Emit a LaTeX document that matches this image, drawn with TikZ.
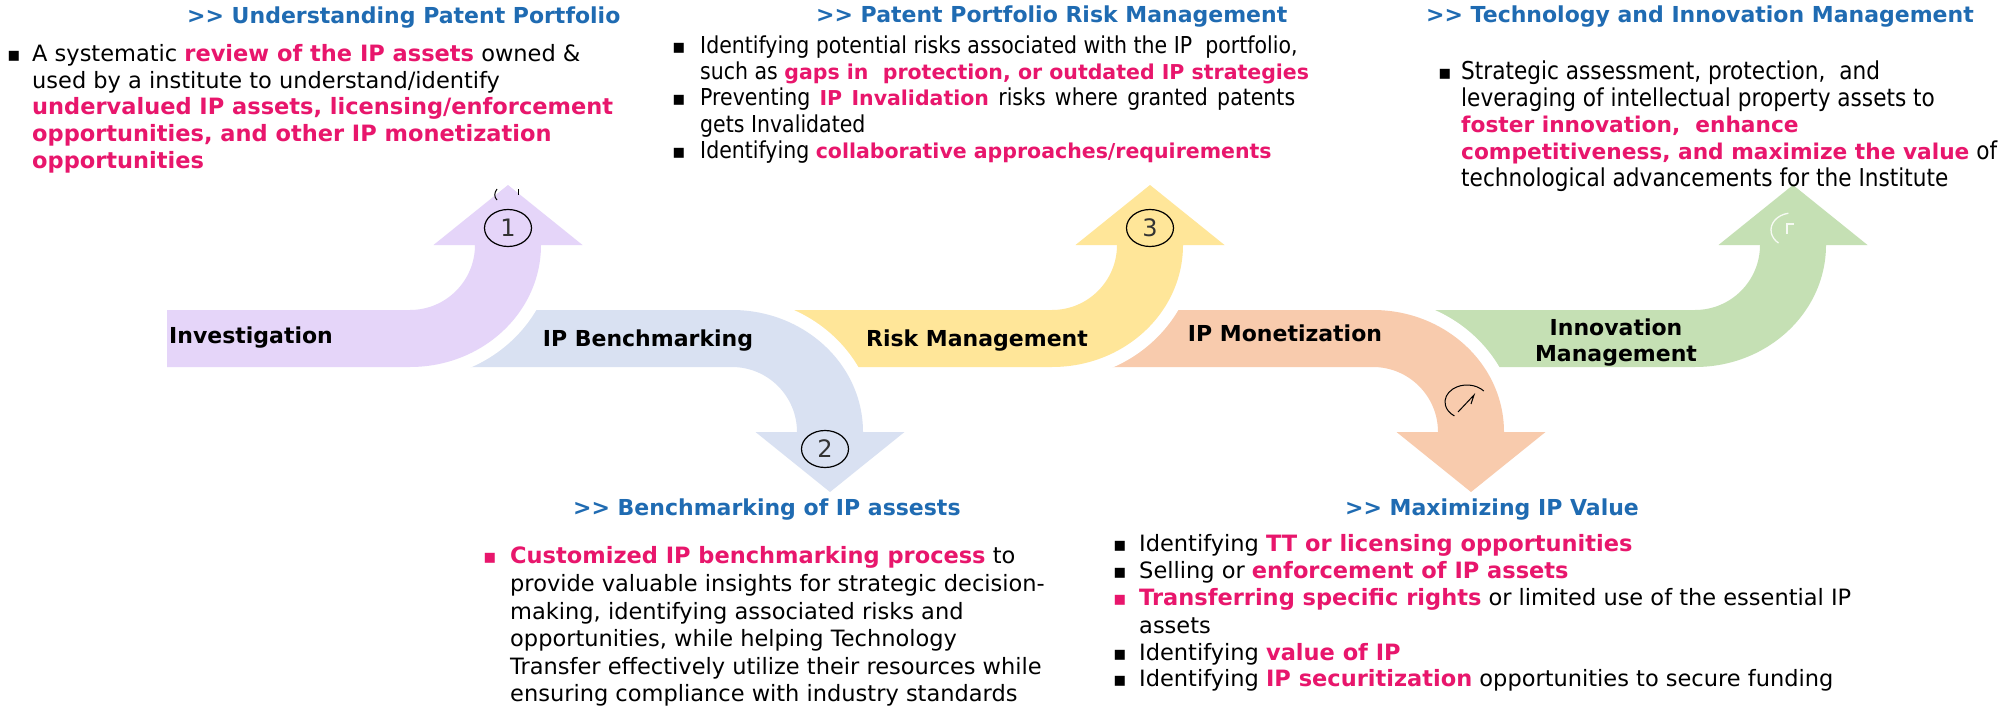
\documentclass[tikz,border=0pt]{standalone}
\usepackage{fontspec}
\setmainfont{DejaVu Sans}
\newfontfamily\narrowf[FakeStretch=0.88]{DejaVu Sans}
\usetikzlibrary{shapes.geometric}
\definecolor{hblue}{RGB}{31,107,178}
\definecolor{pkc}{RGB}{232,22,108}
\definecolor{apurple}{RGB}{229,213,249}
\definecolor{ablue}{RGB}{217,225,242}
\definecolor{ayellow}{RGB}{255,230,153}
\definecolor{aorange}{RGB}{248,203,173}
\definecolor{agreen}{RGB}{197,224,180}
\newcommand\pk[1]{{\color{pkc}\bfseries #1}}
\newcommand\pkb[1]{{\color{pkc}\normalfont\fontsize{20.5}{25}\selectfont\bfseries #1}}
\newcommand\pkc[1]{{\color{pkc}\normalfont\fontsize{21.7}{26}\selectfont\bfseries #1}}
\newcommand\gtgt{>{}>}
\tikzset{
  uparr/.style 2 args={insert path={(#2,310) -- ({#1-98},310) .. controls ({#1-62.1},310) and ({#1-33},280.9) .. ({#1-33},245) -- ({#1-74.5},245) -- (#1,185) -- ({#1+74.5},245) -- ({#1+33},245) .. controls ({#1+33},312.4) and ({#1-25.6},367) .. ({#1-98},367) -- (#2,367) -- cycle}},
  dnarr/.style 2 args={insert path={(#2,310) -- ({#1-98},310) .. controls ({#1-25.6},310) and ({#1+33},364.6) .. ({#1+33},432) -- ({#1+74.5},432) -- (#1,492) -- ({#1-74.5},432) -- ({#1-33},432) .. controls ({#1-33},396.1) and ({#1-62.1},367) .. ({#1-98},367) -- (#2,367) -- cycle}},
  halo/.style={draw=white, line width=26pt, line join=round},
  hdtxt/.style={anchor=base west, inner sep=0pt, text=hblue, font=\fontsize{22}{26}\selectfont\bfseries},
  bodytxt/.style={anchor=base west, inner sep=0pt, font=\fontsize{22.5}{27}\selectfont},
  bodytwo/.style={anchor=base west, inner sep=0pt, font=\narrowf\fontsize{23.3}{27}\selectfont},
  bodythree/.style={anchor=base west, inner sep=0pt, font=\narrowf\fontsize{24.6}{28}\selectfont},
  bul/.style={anchor=base west, inner sep=0pt, font=\fontsize{20}{24}\selectfont},
  lbl/.style={anchor=base, inner sep=0pt, font=\fontsize{22}{26}\selectfont\bfseries},
  numc/.style={draw=black, line width=1.2pt, ellipse, minimum width=47pt, minimum height=37pt, inner sep=0pt, text=black!80, font=\fontsize{24}{24}\selectfont},
}
\begin{document}
\begin{tikzpicture}[x=1pt,y=-1pt]
\useasboundingbox (0,0) rectangle (2000,706);
\fill[white] (0,0) rectangle (2000,706);

% ---- arrows, back to front ----
\path[fill=agreen, uparr={1793}{1363}];
\path[halo, dnarr={1471}{1042}];
\path[fill=aorange, dnarr={1471}{1042}];
\path[halo, uparr={1150}{722}];
\path[fill=ayellow, uparr={1150}{722}];
\path[halo, dnarr={830}{400}];
\path[fill=ablue, dnarr={830}{400}];
\path[halo, uparr={508}{167}];
\path[fill=apurple, uparr={508}{167}];

% ---- numbered marks ----
\node[numc] (n1) at (508,228) {1};
\node[numc] (n2) at (825,449) {2};
\node[numc] (n3) at (1150,228) {3};
\draw[line width=1pt] (1483.85,391.07) arc[start angle=40, end angle=235, x radius=22pt, y radius=17pt];
\draw[line width=1pt] (1458,412) -- (1474,395) -- (1471,404);
\draw[white, line width=1.3pt, opacity=0.85] (1788.35,213.26) arc[start angle=100, end angle=230, x radius=21pt, y radius=17pt];
\draw[white, line width=1.3pt, opacity=0.85] (1787,234) -- (1787,224) -- (1794,224);
\draw[line width=1pt] (497,189) .. controls (494,193) and (494,197) .. (497,200);
\draw[line width=1pt] (518,189) -- (518,195);

% ---- arrow labels ----
\node[lbl, anchor=base west] (l1) at (169,343) {Investigation};
\node[lbl] (l2) at (648,346) {IP Benchmarking};
\node[lbl] (l3) at (977,346) {Risk Management};
\node[lbl] (l4) at (1285,341) {IP Monetization};
\node[lbl] (l5a) at (1616,335) {Innovation};
\node[lbl] (l5b) at (1616,361) {Management};

% ---- headings ----
\node[hdtxt] (h1) at (187,24) {\gtgt\ Understanding Patent Portfolio};
\node[hdtxt] (h2) at (816,23) {\gtgt\ Patent Portfolio Risk Management};
\node[hdtxt] (h3) at (1426,23) {\gtgt\ Technology and Innovation Management};
\node[hdtxt] (h4) at (573,515) {\gtgt\ Benchmarking of IP assests};
\node[hdtxt] (h5) at (1345,515) {\gtgt\ Maximizing IP Value};

% ---- block 1 ----
\node[bul] (u11) at (7,62) {▪};
\node[bodytxt] (b1a) at (32,62) {A systematic \pk{review of the IP assets} owned \&};
\node[bodytxt] (b1b) at (32,88.5) {used by a institute to understand/identify};
\node[bodytxt] (b1c) at (32,115) {\pk{undervalued IP assets, licensing/enforcement}};
\node[bodytxt] (b1d) at (32,141.5) {\pk{opportunities, and other IP monetization}};
\node[bodytxt] (b1e) at (32,168) {\pk{opportunities}};

% ---- block 2 ----
\node[bul] (u21) at (672,54) {▪};
\node[bul] (u22) at (672,106) {▪};
\node[bul] (u23) at (672,158) {▪};
\node[bodytwo] (b2a) at (700,54) {Identifying potential risks associated with the IP\ \ portfolio,};
\node[bodytwo] (b2b) at (700,80) {such as \pkb{gaps in\ \ protection, or outdated IP strategies}};
\node[bodytwo] (b2c) at (700,106) {\hbox to 595pt{Preventing\hfill\pkb{IP\hfill Invalidation}\hfill risks\hfill where\hfill granted\hfill patents}};
\node[bodytwo] (b2d) at (700,132) {gets Invalidated};
\node[bodytwo] (b2e) at (700,158) {Identifying \pkb{collaborative approaches/requirements}};

% ---- block 3 ----
\node[bul] (u31) at (1438,80) {▪};
\node[bodythree] (b3a) at (1461,80) {Strategic assessment, protection,\ \ and};
\node[bodythree] (b3b) at (1461,106.5) {leveraging of intellectual property assets to};
\node[bodythree] (b3c) at (1461,133) {\pkc{foster innovation,\ \ enhance}};
\node[bodythree] (b3d) at (1461,159.5) {\pkc{competitiveness, and maximize the value} of};
\node[bodythree] (b3e) at (1461,186) {technological advancements for the Institute};

% ---- block 4 ----
\node[bul, text=pkc] (u41) at (483,563) {▪};
\node[bodytxt] (b4a) at (510,563) {\pk{Customized IP benchmarking process} to};
\node[bodytxt] (b4b) at (510,591) {provide valuable insights for strategic decision-};
\node[bodytxt] (b4c) at (510,619) {making, identifying associated risks and};
\node[bodytxt] (b4d) at (510,646) {opportunities, while helping Technology};
\node[bodytxt] (b4e) at (510,674) {Transfer effectively utilize their resources while};
\node[bodytxt] (b4f) at (510,701) {ensuring compliance with industry standards};

% ---- block 5 ----
\node[bul] (u51) at (1113,551) {▪};
\node[bul] (u52) at (1113,578) {▪};
\node[bul, text=pkc] (u53) at (1113,605) {▪};
\node[bul] (u54) at (1113,660) {▪};
\node[bul] (u55) at (1113,686) {▪};
\node[bodytxt] (b5a) at (1139,551) {Identifying \pk{TT or licensing opportunities}};
\node[bodytxt] (b5b) at (1139,578) {Selling or \pk{enforcement of IP assets}};
\node[bodytxt] (b5c) at (1139,605) {\pk{Transferring specific rights} or limited use of the essential IP};
\node[bodytxt] (b5d) at (1139,633) {assets};
\node[bodytxt] (b5e) at (1139,660) {Identifying \pk{value of IP}};
\node[bodytxt] (b5f) at (1139,686) {Identifying \pk{IP securitization} opportunities to secure funding};
\end{tikzpicture}
\end{document}
